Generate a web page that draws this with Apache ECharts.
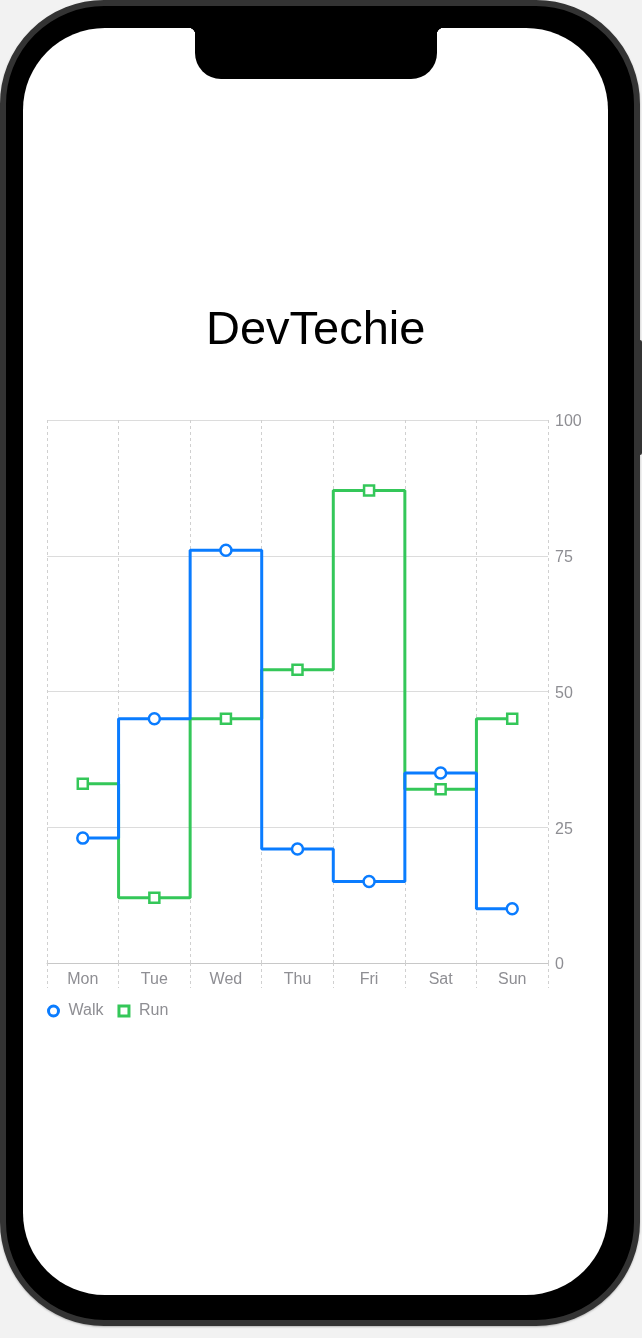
<!DOCTYPE html>
<html>
<head>
<meta charset="utf-8">
<script src="https://cdn.jsdelivr.net/npm/echarts@6/dist/echarts.min.js"></script>
<style>
  html,body{margin:0;padding:0;width:642px;height:1338px;background:#f2f2f2;overflow:hidden;}
  #phone{position:absolute;left:0;top:0;width:640px;height:1326px;border-radius:104px;background:#000;border:6px solid #333;box-sizing:border-box;box-shadow:0 1px 2px rgba(0,0,0,0.25);}
  #btn{position:absolute;left:638px;top:340px;width:4px;height:115px;background:#333;border-radius:2px;}
  #screen{position:absolute;left:23px;top:28px;width:585px;height:1267px;border-radius:82px;background:#fff;}
  #notch{position:absolute;left:195px;top:26px;width:242px;height:53px;background:#000;border-radius:0 0 26px 26px;}
  .flare{position:absolute;top:28px;width:7px;height:7px;}
  #fl{left:188px;background:radial-gradient(circle at 0 100%, transparent 7px, #000 7.5px);}
  #fr{left:437px;background:radial-gradient(circle at 100% 100%, transparent 7px, #000 7.5px);}
  #chart{position:absolute;left:0;top:0;width:642px;height:1338px;}
</style>
</head>
<body>
<div id="phone"></div>
<div id="btn"></div>
<div id="screen"></div>
<div id="notch"></div>
<div class="flare" id="fl"></div>
<div class="flare" id="fr"></div>
<div id="chart"></div>
<script>
const days = ['Mon','Tue','Wed','Thu','Fri','Sat','Sun'];
const walk = [23, 45, 76, 21, 15, 35, 10];
const run = [33, 12, 45, 54, 87, 32, 45];
const yTicks = [0, 25, 50, 75, 100];

const BLUE = '#0a7cff';
const GREEN = '#34c759';
const GRAY = '#8e8e93';
const FONT = 'Liberation Sans, Helvetica, Arial, sans-serif';

const chart = echarts.init(document.getElementById('chart'), null, {renderer:'canvas'});
chart.setOption({
  backgroundColor: 'transparent',
  animation: false,
  title: {
    text: 'DevTechie',
    left: 201,
    top: 303,
    textStyle: {fontFamily: FONT, fontSize: 47, fontWeight: 'normal', color: '#000'}
  },
  legend: {
    left: 42,
    top: 998,
    itemWidth: 10,
    itemHeight: 10,
    itemGap: 14,
    textStyle: {fontFamily: FONT, fontSize: 16, color: GRAY, padding: [0,0,0,5]},
    data: [
      {name: 'Walk', icon: 'circle', itemStyle: {color: '#fff', borderColor: BLUE, borderWidth: 3}},
      {name: 'Run', icon: 'rect', itemStyle: {color: '#fff', borderColor: GREEN, borderWidth: 3}}
    ]
  },
  grid: {left: 47, right: 94, top: 420, bottom: 375, containLabel: false},
  xAxis: {
    type: 'category',
    data: days,
    boundaryGap: true,
    axisLine: {show: true, lineStyle: {color: '#c8c8c8', width: 1}},
    axisTick: {show: true, length: 25, lineStyle: {color: '#d0d0d0', type: [3,3], width: 1}},
    axisLabel: {fontFamily: FONT, fontSize: 16, color: GRAY, margin: 9},
    splitLine: {show: true, lineStyle: {color: '#d0d0d0', type: [3,3], width: 1}}
  },
  yAxis: {
    type: 'value',
    position: 'right',
    min: 0,
    max: 100,
    interval: 25,
    axisLine: {show: false},
    axisTick: {show: false},
    axisLabel: {fontFamily: FONT, fontSize: 16, color: GRAY, margin: 7,
      formatter: v => yTicks.includes(v) ? '{a|' + v + '}' : '',
      rich: {a: {fontFamily: FONT, fontSize: 16, color: GRAY, padding: [4,0,0,0]}}},
    splitLine: {show: true, lineStyle: {color: '#dcdcdc', width: 1}}
  },
  series: [
    {
      name: 'Walk', type: 'line', step: 'middle', data: walk,
      symbol: 'circle', symbolSize: 11,
      lineStyle: {color: BLUE, width: 3},
      itemStyle: {color: '#fff', borderColor: BLUE, borderWidth: 2.5},
      z: 3
    },
    {
      name: 'Run', type: 'line', step: 'middle', data: run,
      symbol: 'rect', symbolSize: 10,
      lineStyle: {color: GREEN, width: 3},
      itemStyle: {color: '#fff', borderColor: GREEN, borderWidth: 2.5},
      z: 2
    }
  ]
});
</script>
</body>
</html>
